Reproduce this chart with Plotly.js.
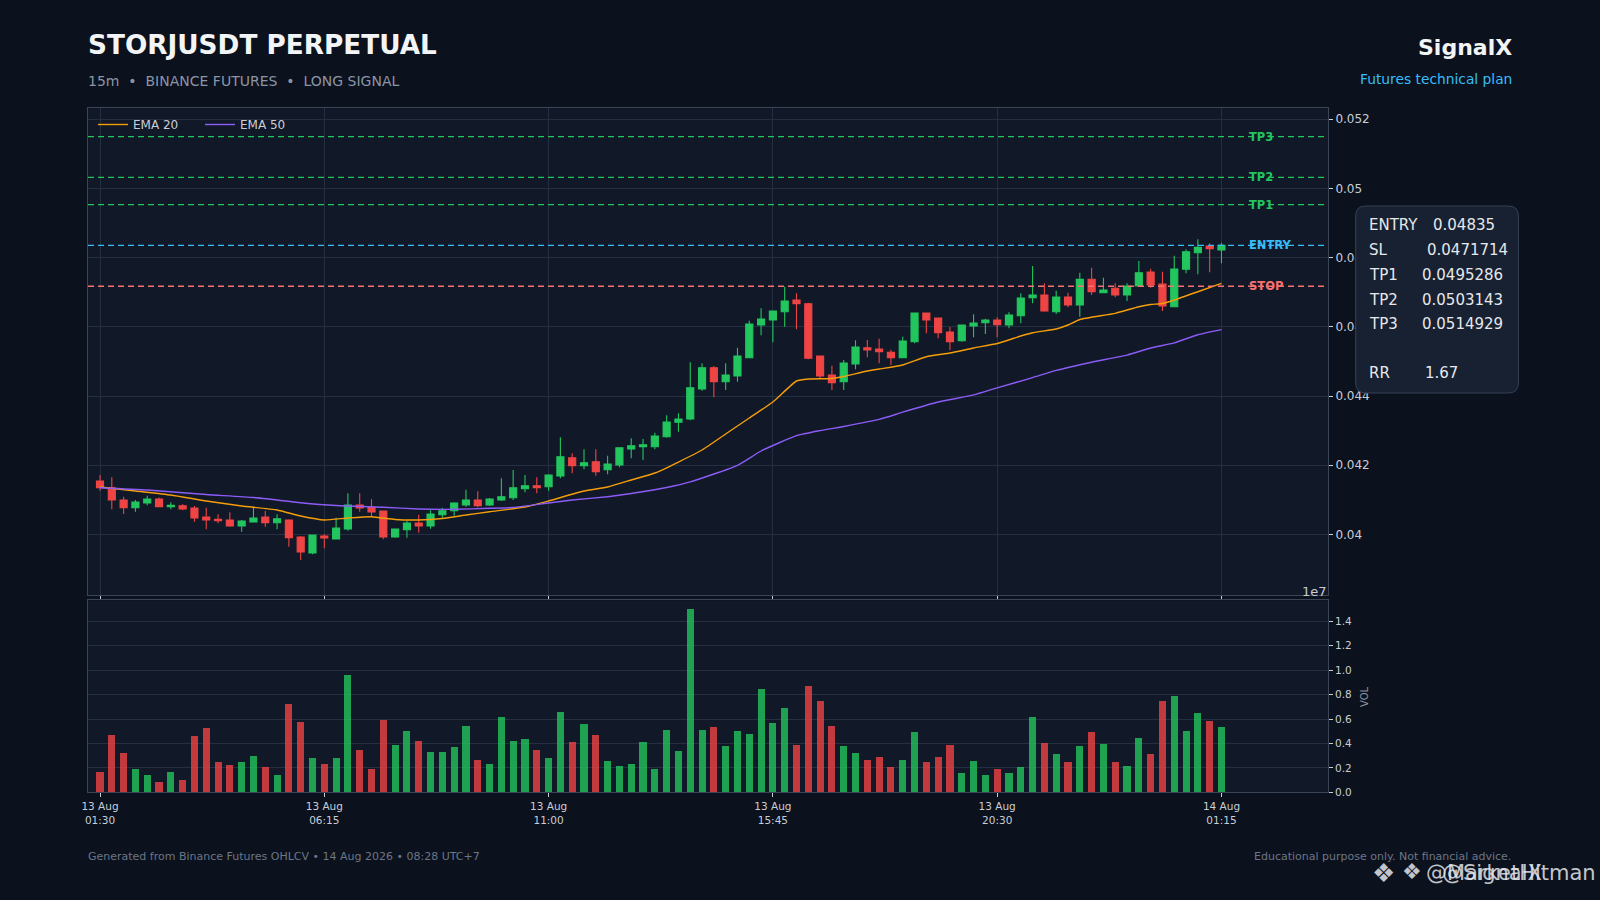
<!DOCTYPE html>
<html><head><meta charset="utf-8">
<script src="https://cdn.plot.ly/plotly-3.0.1.min.js"></script>
<style>html,body{margin:0;padding:0;background:#0b111d;overflow:hidden}#chart{width:1600px;height:900px}</style>
</head><body><div id="chart"></div>
<script>
// ---------- DATA ----------
const timeTickIdx = [0,19,38,57,76,95];
const timeTickLabels = ['13 Aug<br>01:30','13 Aug<br>06:15','13 Aug<br>11:00','13 Aug<br>15:45','13 Aug<br>20:30','14 Aug<br>01:15'];

const opens = [0.041545,0.041352,0.040997,0.040774,0.040910,0.041025,0.040803,0.040832,0.040765,0.040505,
0.040439,0.040419,0.040246,0.040361,0.040505,0.040341,0.040419,0.039928,0.039466,0.039957,
0.039870,0.040159,0.040852,0.040794,0.040679,0.039928,0.040139,0.040332,0.040246,0.040572,
0.040687,0.040852,0.040997,0.040852,0.040997,0.041063,0.041323,0.041410,0.041381,0.041690,
0.042218,0.041987,0.042103,0.041872,0.042008,0.042470,0.042536,0.042536,0.042825,0.043241,
0.043336,0.044203,0.044818,0.044414,0.044578,0.045107,0.046052,0.046196,0.046436,0.046774,
0.046667,0.045156,0.044607,0.044414,0.044925,0.045396,0.045358,0.045263,0.045107,0.045569,
0.046398,0.046254,0.045849,0.045598,0.046023,0.046118,0.046196,0.046052,0.046320,0.046840,
0.046918,0.046436,0.046860,0.046629,0.047372,0.046984,0.047112,0.046918,0.047178,0.047582,
0.047236,0.046580,0.047660,0.048140,0.048333,0.048218];
const highs = [0.041719,0.041652,0.041092,0.040997,0.041121,0.041069,0.040930,0.040872,0.040823,0.040774,
0.040583,0.040641,0.040419,0.040803,0.040679,0.040583,0.040439,0.039957,0.039986,0.040006,
0.040485,0.041190,0.041190,0.041017,0.040679,0.040159,0.040390,0.040572,0.040699,0.040774,
0.040930,0.041294,0.041248,0.041054,0.041623,0.041863,0.041719,0.041652,0.041740,0.042808,
0.042345,0.042461,0.042461,0.042276,0.042520,0.042779,0.042759,0.042940,0.043443,0.043501,
0.044974,0.044945,0.044867,0.044945,0.045396,0.046176,0.046534,0.046470,0.047158,0.046967,
0.046696,0.045170,0.044876,0.045040,0.045610,0.045618,0.045656,0.045338,0.045713,0.046410,
0.046410,0.046270,0.045994,0.046060,0.046360,0.046233,0.046274,0.046418,0.046967,0.047756,
0.047256,0.047042,0.046984,0.047562,0.047706,0.047418,0.047256,0.047256,0.047900,0.047678,
0.047591,0.048053,0.048238,0.048527,0.048411,0.048429];
const lows = [0.041265,0.040728,0.040592,0.040659,0.040843,0.040794,0.040728,0.040699,0.040370,0.040150,
0.040324,0.040225,0.040081,0.040361,0.040225,0.040150,0.039648,0.039263,0.039428,0.039601,
0.039870,0.040110,0.040659,0.040534,0.039861,0.039908,0.039908,0.040052,0.040168,0.040485,
0.040543,0.040803,0.040786,0.040823,0.040968,0.040997,0.041219,0.041190,0.041265,0.041623,
0.041768,0.041883,0.041698,0.041739,0.041941,0.042201,0.042152,0.042461,0.042796,0.042969,
0.043300,0.044154,0.043963,0.044174,0.044414,0.045090,0.045754,0.045552,0.046002,0.045927,
0.045061,0.044483,0.044174,0.044174,0.044772,0.045118,0.044945,0.044896,0.045090,0.045523,
0.045812,0.045667,0.045329,0.045569,0.045696,0.045792,0.045696,0.045956,0.046101,0.046678,
0.046436,0.046369,0.046563,0.046291,0.046918,0.046967,0.046852,0.046745,0.047160,0.047129,
0.046456,0.046563,0.047545,0.047516,0.047574,0.047834];
const closes = [0.041352,0.040997,0.040774,0.040939,0.041025,0.040803,0.040843,0.040737,0.040477,0.040419,
0.040399,0.040246,0.040390,0.040477,0.040341,0.040456,0.039908,0.039495,0.039986,0.039899,
0.040188,0.040852,0.040765,0.040650,0.039928,0.040159,0.040332,0.040246,0.040592,0.040687,
0.040910,0.040997,0.040832,0.041025,0.041092,0.041352,0.041410,0.041352,0.041719,0.042247,
0.041987,0.042074,0.041814,0.042036,0.042507,0.042565,0.042594,0.042845,0.043250,0.043336,
0.044240,0.044818,0.044414,0.044607,0.045156,0.046080,0.046225,0.046456,0.046745,0.046667,
0.045090,0.044578,0.044385,0.044954,0.045416,0.045329,0.045280,0.045107,0.045589,0.046398,
0.046196,0.045829,0.045569,0.046052,0.046109,0.046196,0.046060,0.046340,0.046831,0.046918,
0.046456,0.046860,0.046629,0.047372,0.047013,0.047062,0.046918,0.047178,0.047562,0.047207,
0.046600,0.047669,0.048169,0.048296,0.048256,0.048354];
const volumes = [1660000,4690000,3220000,1940000,1420000,850000,1660000,1010000,4610000,5270000,
2480000,2240000,2480000,2970000,2070000,1420000,7230000,5760000,2810000,2320000,
2810000,9600000,3470000,1940000,5920000,3870000,5020000,4200000,3300000,3300000,
3710000,5430000,2650000,2320000,6170000,4200000,4370000,3470000,2810000,6580000,
4120000,5590000,4690000,2560000,2160000,2320000,4120000,1940000,5100000,3380000,
15010000,5100000,5350000,3790000,5020000,4770000,8460000,5680000,6900000,3870000,
8700000,7480000,5430000,3790000,3220000,2650000,2890000,2070000,2650000,4940000,
2480000,2890000,3870000,1580000,2560000,1420000,1910000,1580000,2070000,6170000,
4040000,3140000,2480000,3790000,4940000,3960000,2480000,2160000,4450000,3140000,
7480000,7890000,5020000,6490000,5840000,5350000];

const ema20Idx = [0,3,6,9,12,15,17,19,21,23,25,27,29,31,33,36,38,41,43,45,47,49,51,53,55,57,59,60,62,63,65,66,68,70,72,74,76,78,79,81,82,83,86,88,89,90,91,93,95];
const ema20Vals = [0.041372,0.041256,0.041141,0.040968,0.040823,0.040708,0.040534,0.040419,0.040477,0.040514,
0.040433,0.040419,0.040462,0.040563,0.040659,0.040794,0.040968,0.041256,0.041372,0.041574,
0.041776,0.042094,0.042441,0.042903,0.043365,0.043827,0.044434,0.044492,0.044506,0.044564,
0.044723,0.044780,0.044896,0.045136,0.045243,0.045387,0.045517,0.045734,0.045829,0.045936,
0.046051,0.046210,0.046389,0.046580,0.046644,0.046672,0.046774,0.047013,0.047256];
const ema50Idx = [0,4,9,13,17,20,24,27,30,33,35,38,40,43,45,48,50,54,56,59,61,63,66,68,71,74,76,79,81,84,87,89,91,93,95];
const ema50Vals = [0.041352,0.041285,0.041155,0.041069,0.040919,0.040838,0.040786,0.040737,0.040728,0.040757,
0.040780,0.040910,0.040997,0.041092,0.041184,0.041358,0.041520,0.041999,0.042412,0.042854,
0.043001,0.043120,0.043325,0.043533,0.043827,0.044032,0.044237,0.044532,0.044740,0.044977,
0.045182,0.045387,0.045534,0.045771,0.045919];

const levelNames = ['TP3','TP2','TP1','ENTRY','STOP'];
const levelValues = [0.0514929,0.0503143,0.0495286,0.04835,0.0471714];

const priceTicks = [0.04,0.042,0.044,0.046,0.048,0.05,0.052];
const priceTickText = ['0.04','0.042','0.044','0.046','0.048','0.05','0.052'];
const volTicks = [0,2e6,4e6,6e6,8e6,1e7,1.2e7,1.4e7];
const volTickText = ['0.0','0.2','0.4','0.6','0.8','1.0','1.2','1.4'];

const boxLabels = ['ENTRY','SL','TP1','TP2','TP3','RR'];
const boxValues = ['0.04835','0.0471714','0.0495286','0.0503143','0.0514929','1.67'];

// ---------- STYLE / LAYOUT ----------
const W = 1600, H = 900;
const px = x => x / W, py = y => 1 - y / H;
const plotL = 88, plotR = 1328, priceT = 108.3, priceB = 595.3, volT = 600.3, volB = 792.3;
const slot = 11.805, firstX = 100;
const xRange = [(plotL - firstX) / slot, (plotR - firstX) / slot];
const yRange = [0.038244, 0.052311];
const UP = '#22c55e', DOWN = '#ef4444';
const levelColors = {TP3:'#22c55e', TP2:'#22c55e', TP1:'#22c55e', ENTRY:'#38bdf8', STOP:'#f87171'};
const TXT = '#c9ced6', GRID = '#243041', SPINE = '#3a4558';
const FONT = 'DejaVu Sans, Verdana, sans-serif';

const idx = opens.map((_, i) => i);
const volColors = idx.map(i => closes[i] >= opens[i] ? 'rgba(34,197,94,0.8)' : 'rgba(239,68,68,0.8)');

const traces = [
  {type:'candlestick', x:idx, open:opens, high:highs, low:lows, close:closes, xaxis:'x', yaxis:'y',
   increasing:{line:{color:UP, width:1.1}, fillcolor:UP},
   decreasing:{line:{color:DOWN, width:1.1}, fillcolor:DOWN},
   whiskerwidth:0, showlegend:false, hoverinfo:'skip'},
  {type:'scatter', mode:'lines', x:ema20Idx, y:ema20Vals, xaxis:'x', yaxis:'y', name:'EMA 20',
   line:{color:'#f59e0b', width:1.4, shape:'spline', smoothing:0.5}, legend:'legend', hoverinfo:'skip'},
  {type:'scatter', mode:'lines', x:ema50Idx, y:ema50Vals, xaxis:'x', yaxis:'y', name:'EMA 50',
   line:{color:'#8b5cf6', width:1.4, shape:'spline', smoothing:0.5}, legend:'legend2', hoverinfo:'skip'},
  {type:'bar', x:idx, y:volumes, xaxis:'x2', yaxis:'y2', width:0.6,
   marker:{color:volColors, line:{width:0}}, showlegend:false, hoverinfo:'skip'}
];

function roundRect(x0, y0, x1, y1, r) {
  const X = v => px(v).toFixed(5), Y = v => py(v).toFixed(5);
  return `M${X(x0+r)},${Y(y0)} L${X(x1-r)},${Y(y0)} Q${X(x1)},${Y(y0)} ${X(x1)},${Y(y0+r)} ` +
         `L${X(x1)},${Y(y1-r)} Q${X(x1)},${Y(y1)} ${X(x1-r)},${Y(y1)} L${X(x0+r)},${Y(y1)} ` +
         `Q${X(x0)},${Y(y1)} ${X(x0)},${Y(y1-r)} L${X(x0)},${Y(y0+r)} Q${X(x0)},${Y(y0)} ${X(x0+r)},${Y(y0)} Z`;
}

const shapes = levelNames.map((n, k) => ({
  type:'line', xref:'paper', yref:'y', x0:px(plotL), x1:px(plotR), y0:levelValues[k], y1:levelValues[k],
  line:{color:levelColors[n], width:1.3, dash:'6px,4px'}, layer:'above'
}));
shapes.push({type:'path', xref:'paper', yref:'paper', path:roundRect(1355.7, 206, 1518.4, 393, 10),
  fillcolor:'#172131', line:{color:'#354257', width:1}, layer:'above'});

const ann = [];
function txt(text, x, y, size, color, opts) {
  ann.push(Object.assign({text, x:px(x), y:py(y), xref:'paper', yref:'paper', showarrow:false,
    xanchor:'left', yanchor:'middle', font:{family:FONT, size, color}}, opts || {}));
}
txt('<b>STORJUSDT PERPETUAL</b>', 86, 45, 26.3, '#f3f4f6');
txt('15m\u00a0\u00a0•\u00a0\u00a0BINANCE FUTURES\u00a0\u00a0•\u00a0\u00a0LONG SIGNAL', 86, 81.5, 14, '#8b95a7');
txt('<b>SignalX</b>', 1514, 47.5, 22, '#f3f4f6', {xanchor:'right'});
txt('Futures technical plan', 1514, 79, 13.8, '#38bdf8', {xanchor:'right'});
txt('Generated from Binance Futures OHLCV • 14 Aug 2026 • 08:28 UTC+7', 86, 856.5, 11, '#6b7687');
txt('Educational purpose only. Not financial advice.', 1513, 856.5, 11, '#6b7687', {xanchor:'right'});
txt('1e7', 1329, 591, 13, TXT, {xanchor:'right'});
txt('VOL', 1364, 697, 10, '#8b95a5', {xanchor:'center', textangle:-90});
// level labels
levelNames.forEach((n, k) => {
  ann.push({text:'<b>'+n+'</b>', x:(1247 - firstX)/slot, y:levelValues[k], xref:'x', yref:'y',
    showarrow:false, xanchor:'left', yanchor:'middle', font:{family:FONT, size:11.5, color:levelColors[n]}});
});
// info box
const rowY = [225, 250, 275, 299.5, 324, 373];
const valX = [1431, 1424.5, 1419.5, 1419.5, 1419.5, 1422.5];
boxLabels.forEach((l, k) => {
  txt(l, 1366.5, rowY[k], 15, '#e6e8ec');
  txt(boxValues[k], valX[k], rowY[k], 15, '#e6e8ec');
});
// watermark (two overlapping channel tags, as in the reference)
const WM = 'rgba(228,231,236,0.85)';
txt('❖', 1370, 873, 26, WM);
txt('❖', 1400, 871, 22, WM);
txt('@MarketHitman', 1424, 873, 21, WM);
txt('@SignalX', 1440, 873, 21, WM);

const axCommon = {zeroline:false, showline:true, linecolor:SPINE, linewidth:1, mirror:true,
  ticks:'outside', ticklen:4, tickwidth:1, tickcolor:TXT, fixedrange:true, automargin:false};

const layout = {
  width:W, height:H, margin:{l:0, r:0, t:0, b:0},
  paper_bgcolor:'#0b111d', plot_bgcolor:'#111827',
  font:{family:FONT, color:TXT},
  boxgap:0.4, boxgroupgap:0, bargap:0,
  xaxis:Object.assign({}, axCommon, {domain:[px(plotL), px(plotR)], range:xRange, anchor:'y',
    tickvals:timeTickIdx, ticktext:timeTickLabels, showticklabels:false, showgrid:true,
    gridcolor:GRID, rangeslider:{visible:false}}),
  yaxis:Object.assign({}, axCommon, {domain:[py(priceB), py(priceT)], range:yRange, anchor:'x', side:'right',
    tickvals:priceTicks, ticktext:priceTickText, tickfont:{size:12, color:TXT}, showgrid:true, gridcolor:GRID}),
  xaxis2:Object.assign({}, axCommon, {domain:[px(plotL), px(plotR)], range:xRange, anchor:'y2',
    tickvals:timeTickIdx, ticktext:timeTickLabels, tickfont:{size:10.5, color:TXT}, showgrid:false}),
  yaxis2:Object.assign({}, axCommon, {domain:[py(volB), py(volT)], range:[0, 1.572e7], anchor:'x2', side:'right',
    tickvals:volTicks, ticktext:volTickText, tickfont:{size:10.5, color:TXT}, showgrid:true, gridcolor:GRID}),
  showlegend:true,
  legend:{x:px(93), y:py(124.5), xanchor:'left', yanchor:'middle', orientation:'h',
    bgcolor:'rgba(0,0,0,0)', borderwidth:0, font:{family:FONT, size:12, color:TXT}},
  legend2:{x:px(200), y:py(124.5), xanchor:'left', yanchor:'middle', orientation:'h',
    bgcolor:'rgba(0,0,0,0)', borderwidth:0, font:{family:FONT, size:12, color:TXT}},
  shapes, annotations:ann
};

Plotly.newPlot('chart', traces, layout, {displayModeBar:false, staticPlot:true});
</script>
</body></html>
